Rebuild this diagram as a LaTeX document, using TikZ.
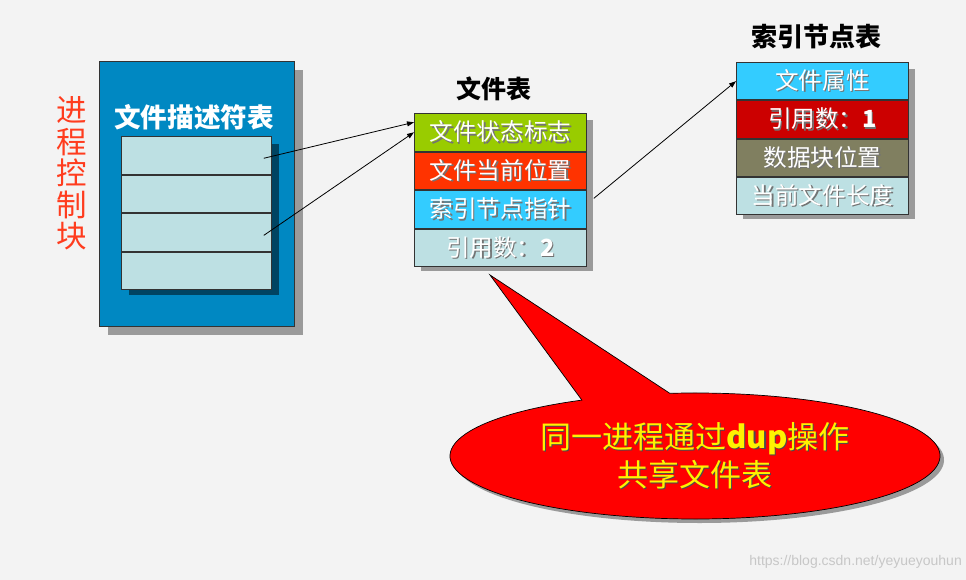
\documentclass[tikz,border=0pt]{standalone}
\usepackage{fontspec}
\setmainfont{Noto Sans CJK SC}
\newfontfamily\wmfont{Liberation Sans}
\usetikzlibrary{arrows.meta,calc}
\definecolor{bgc}{HTML}{F3F3F3}
\definecolor{pcbblue}{HTML}{0088C2}
\definecolor{pcbshadow}{HTML}{004462}
\definecolor{paleblue}{HTML}{BDE0E3}
\definecolor{fgreen}{HTML}{99CC00}
\definecolor{forange}{HTML}{FF3300}
\definecolor{fcyan}{HTML}{33CCFF}
\definecolor{idred}{HTML}{CC0000}
\definecolor{idolive}{HTML}{807F60}
\definecolor{pcbred}{HTML}{FF3C1E}
\definecolor{shgray}{HTML}{9A9A9A}
\newcommand{\shtxt}[3]{\makebox[0pt][l]{\hspace{1.4pt}\raisebox{-1.4pt}{\color{#1}#3}}{\color{#2}#3}}
\tikzset{
  rowbox/.style={draw=black!80, line width=0.8pt, minimum width=172pt, minimum height=37.75pt, inner sep=0pt, anchor=north west, font=\fontsize{23.6}{25}\selectfont},
  fdrow/.style={draw=black!80, line width=0.8pt, fill=paleblue, minimum width=150pt, minimum height=37.75pt, inner sep=0pt, anchor=north west},
  title/.style={font=\fontsize{26}{28}\selectfont\bfseries, text=black},
  link/.style={draw=black, line width=0.8pt, -{Triangle[length=7pt,width=5pt]}},
}
\begin{document}
\begin{tikzpicture}[x=1pt,y=1pt]
\fill[bgc] (0,0) rectangle (966,580);
\useasboundingbox (0,0) rectangle (966,580);

% process control block
\fill[shgray] (108,245) rectangle (303,510);
\node[draw=black!80, line width=0.8pt, fill=pcbblue, minimum width=195pt, minimum height=265pt, inner sep=0pt, anchor=north west] (pcb) at (99,519) {};
\node[font=\fontsize{26.6}{28}\selectfont\bfseries, text=white] (fdtitle) at (194,463) {文件描述符表};
\fill[pcbshadow] (129,436) rectangle (279,285);
\node[fdrow] (fd1) at (121,444) {};
\node[fdrow] (fd2) at (fd1.south west) {};
\node[fdrow] (fd3) at (fd2.south west) {};
\node[fdrow] (fd4) at (fd3.south west) {};
\node[text=pcbred, font=\fontsize{30.5}{31.4}\selectfont, align=center] (pcblabel) at (72,406.5) {进\\程\\控\\制\\块};

% file table
\node[title, font=\fontsize{25}{28}\selectfont\bfseries] (ftitle) at (494,491) {文件表};
\fill[shgray] (421,460) rectangle (593,309);
\node[rowbox, fill=fgreen] (f1) at (414,467) {\shtxt{black!55}{white}{文件状态标志}};
\node[rowbox, fill=forange] (f2) at (f1.south west) {\shtxt{black!55}{white}{文件当前位置}};
\node[rowbox, fill=fcyan] (f3) at (f2.south west) {\shtxt{black!55}{white}{索引节点指针}};
\node[rowbox, fill=paleblue] (f4) at (f3.south west) {\shtxt{black!55}{white}{引用数：\textbf{2}}};

% inode table
\node[title] (ititle) at (816,543) {索引节点表};
\fill[shgray] (743,511) rectangle (915,361);
\node[rowbox, fill=fcyan, minimum height=37.5pt] (i1) at (736,518) {\shtxt{black!55}{white}{文件属性}};
\node[rowbox, fill=idred, minimum height=37.5pt] (i2) at (i1.south west) {\shtxt{black!55}{white}{引用数：\textbf{1}}};
\node[rowbox, fill=idolive, minimum height=37.5pt] (i3) at (i2.south west) {\shtxt{black!55}{white}{数据块位置}};
\node[rowbox, fill=paleblue, minimum height=37.5pt] (i4) at (i3.south west) {\shtxt{black!55}{white}{当前文件长度}};

% connectors
\coordinate (s1) at ($(fd1.east)+(-8,-3)$);
\coordinate (s2) at ($(fd3.east)+(-8,-3)$);
\coordinate (t1) at ($(f1.west)+(0,10)$);
\coordinate (t2) at ($(f1.west)+(0,0)$);
\coordinate (s3) at ($(f3.east)+(7,11)$);
\draw[link] (s1) -- (t1);
\draw[link] (s2) -- (t2);
\draw[link] (s3) -- (i1.west);

% callout
\fill[shgray] ([shift={(699,120)}]95.9:245 and 63) -- (494,301) -- ([shift={(699,120)}]117.5:245 and 63)
  arc[start angle=117.5, end angle=455.9, x radius=245pt, y radius=63pt] -- cycle;
\filldraw[fill=red, draw=black, line width=0.7pt] ([shift={(695,124)}]95.9:245 and 63) -- (490,305) -- ([shift={(695,124)}]117.5:245 and 63)
  arc[start angle=117.5, end angle=455.9, x radius=245pt, y radius=63pt] -- cycle;
\node[font=\fontsize{31}{38}\selectfont, align=center] (note) at (695,124) {\shtxt{black!70}{yellow}{同一进程通过\textbf{dup}操作}\\\shtxt{black!70}{yellow}{共享文件表}};

% watermark
\node[font=\wmfont\fontsize{14}{16}\selectfont, text=black!22, anchor=east, inner sep=0pt] (wm) at (962,18) {https://blog.csdn.net/yeyueyouhun};
\end{tikzpicture}
\end{document}
